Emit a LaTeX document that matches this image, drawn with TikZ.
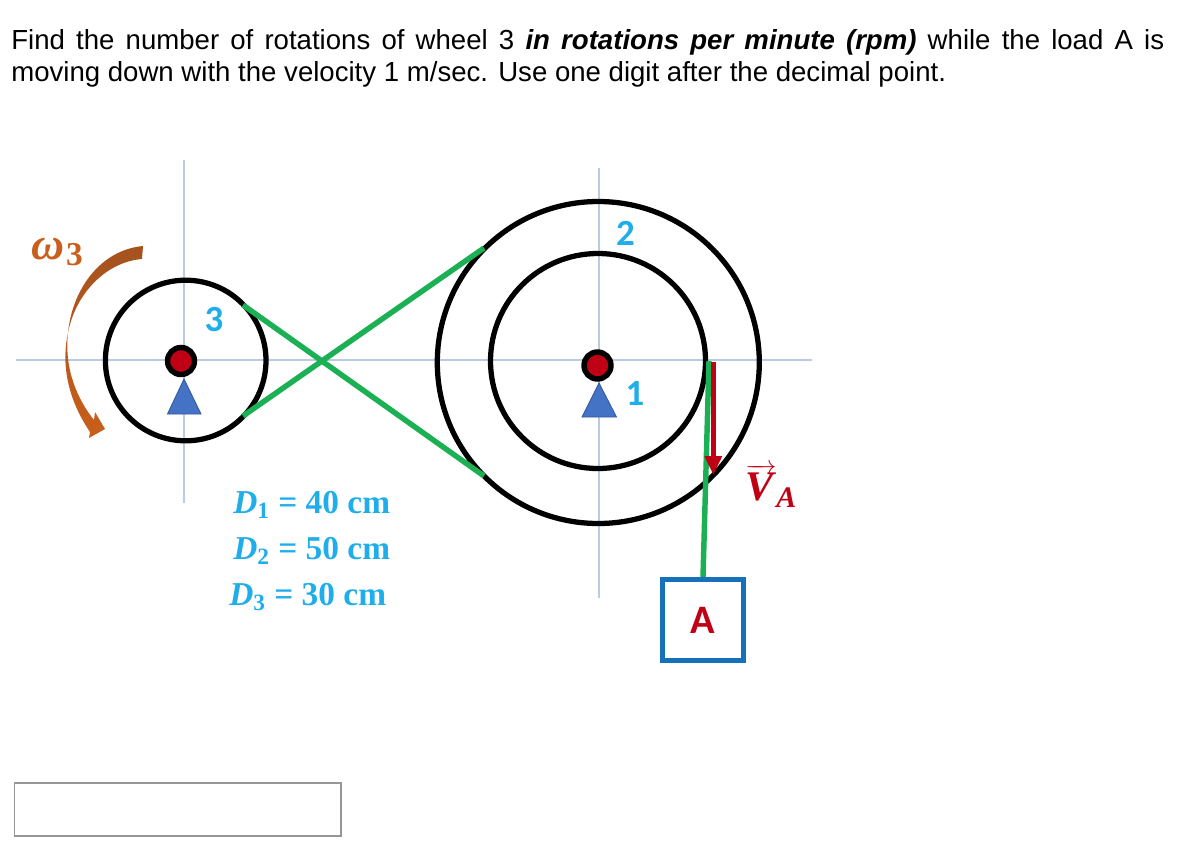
\documentclass[tikz,border=0pt]{standalone}
\usepackage{amsmath,amssymb}
\usepackage[no-math]{fontspec}
\setmainfont{Liberation Sans}
\newfontfamily\numfont{Carlito}
\newfontfamily\unitfont{Liberation Serif}
\usepackage{tikz}
\usetikzlibrary{calc, arrows.meta}
\tikzset{>=latex}
\definecolor{myaxis}{RGB}{185, 203, 225}
\definecolor{mygreen}{RGB}{27, 176, 84}
\definecolor{myred}{RGB}{192, 0, 20}
\definecolor{mycyan}{RGB}{32, 174, 234}
\definecolor{myblue}{RGB}{20, 113, 186}
\definecolor{mytri}{RGB}{68, 114, 196}
\definecolor{myorange}{RGB}{200, 95, 28}
\definecolor{mybrown}{RGB}{165, 82, 30}
\definecolor{mygray}{RGB}{150, 150, 150}
\tikzset{
  axisline/.style={myaxis, line width=0.7pt},
  wheel/.style={black, line width=3pt},
  belt/.style={mygreen, line width=3.1pt},
  hub/.style={fill=myred, draw=black, line width=3.1pt},
  support/.style={fill=mytri, draw=mytri!80!black, line width=0.5pt},
  wheellabel/.style={mycyan, font=\numfont\bfseries\fontsize{21}{21}\selectfont},
  sizelabel/.style={mycyan, anchor=west, inner sep=0pt, font=\unitfont\bfseries\fontsize{19}{19}\selectfont}
}
\begin{document}
\begin{tikzpicture}[x=0.02cm, y=-0.02cm]
\useasboundingbox (0, 0) rectangle (1202, 862);

\node[anchor=north west, inner sep=0pt, text width=23.06cm, align=justify, font=\fontsize{15.7}{18.4}\selectfont] (question) at (11, 29)
  {Find the number of rotations of wheel 3 \textbf{\textit{in rotations per minute (rpm)}} while the load A is\linebreak moving down with the velocity 1 m/sec. Use one digit after the decimal point.};

% axes
\draw[axisline] (16, 360) -- (812, 360);
\draw[axisline] (184, 160) -- (184, 503);
\draw[axisline] (599, 168) -- (599, 598);

% wheels
\draw[wheel] (185.7, 360.5) circle (80.3);
\draw[wheel] (598.3, 362.5) circle (161);
\draw[wheel] (598, 361) circle (107.5);

% belts
\coordinate (beltup3) at (243, 305);
\coordinate (beltdn3) at (243, 416);
\coordinate (beltup2) at (484, 248);
\coordinate (beltdn2) at (484, 476);
\coordinate (rimtop) at (709, 361);
\draw[belt] (beltup3) -- (beltdn2);
\draw[belt] (beltdn3) -- (beltup2);

% supports
\fill[support] (184, 379) -- (201, 414) -- (167.5, 414) -- cycle;
\fill[support] (599, 383) -- (616.5, 417) -- (582, 417) -- cycle;
\draw[hub] (181, 361) circle (13.5);
\draw[hub] (597.5, 365.5) circle (13.5);

% load
\node[draw=myblue, line width=2.9pt, minimum size=1.62cm, inner sep=0pt, text depth=0pt, text=myred, font=\numfont\bfseries\fontsize{23}{23}\selectfont] (boxA) at (703, 620) {A};
\draw[belt] (rimtop) -- (boxA.north);
\coordinate (arrowtop) at (713.3, 362);
\coordinate (arrowend) at (713.3, 475);
\draw[-{Triangle[length=0.38cm, width=0.33cm]}, myred, line width=3pt] (arrowtop) -- (arrowend);

% rotation arrow
\shade[top color=mybrown, bottom color=myorange] (143, 246)
  .. controls (100, 250) and (72, 290) .. (68, 333)
  .. controls (62, 360) and (65, 395) .. (90, 432)
  -- (89, 438) -- (105, 429) -- (95, 412) -- (94, 420)
  .. controls (78, 400) and (64, 370) .. (68, 333)
  .. controls (75, 295) and (105, 262) .. (142, 259) -- cycle;

% labels
\node[wheellabel] (num3) at (214, 320) {3};
\node[wheellabel] (num2) at (625.5, 233) {2};
\node[wheellabel] (num1) at (635, 393.5) {1};
\node[sizelabel] (d1) at (233, 505) {\textit{D}\textsubscript{1} = 40 cm};
\node[sizelabel] (d2) at (233, 551) {\textit{D}\textsubscript{2} = 50 cm};
\node[sizelabel] (d3) at (229, 597) {\textit{D}\textsubscript{3} = 30 cm};
\node[myorange, inner sep=0pt, anchor=west, font=\unitfont\bfseries\fontsize{26}{26}\selectfont] (omega) at (31, 252) {\textit{ω}\hspace{1pt}\raisebox{-3pt}{\fontsize{19}{19}\selectfont 3}};
\node[myred, inner sep=0pt, anchor=west, font=\unitfont\bfseries\fontsize{15}{15}\selectfont] (va) at (745, 486) {$\overrightarrow{\mbox{\fontsize{24}{24}\selectfont\textit{V}}}$\raisebox{-4pt}{\fontsize{17}{17}\selectfont\textit{A}}};

% answer field
\node[draw=mygray, line width=0.6pt, minimum width=6.54cm, minimum height=1.06cm, inner sep=0pt] (answer) at (177.5, 809.5) {};
\end{tikzpicture}
\end{document}
